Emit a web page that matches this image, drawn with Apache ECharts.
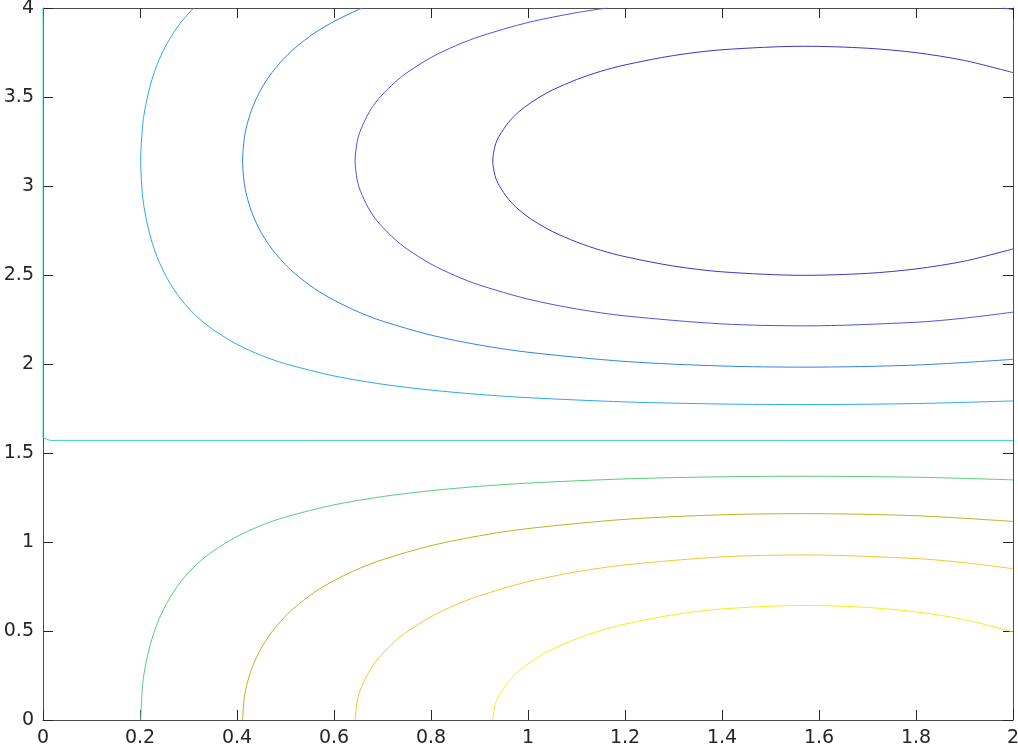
<!DOCTYPE html>
<html>
<head>
<meta charset="utf-8">
<script src="https://cdn.jsdelivr.net/npm/echarts@6/dist/echarts.min.js"></script>
<style type="text/css">
  html, body { margin: 0; padding: 0; background: #fff; }
  .chart { width: 1018px; height: 750px; }
</style>
</head>
<body>
<div id="main" class="chart"></div>
<script>
// contour lines as [x, y] points
const xTicks = [0, 0.2, 0.4, 0.6, 0.8, 1, 1.2, 1.4, 1.6, 1.8, 2]
const yTicks = [0, 0.5, 1, 1.5, 2, 2.5, 3, 3.5, 4]
const levels = [-0.8, -0.6, -0.4, -0.2, 0, 0.2, 0.4, 0.6, 0.8]
const levelColors = ['#3d35c8', '#4a55e6', '#2f82ef', '#2aaaee', '#3ad2c6', '#5acb7a', '#b8b427', '#f5c534', '#f2f01a']

const lineM08 = [[2.0, 3.6369], [1.9, 3.7052], [1.8, 3.7491], [1.7, 3.7739], [1.5708, 3.7851], [1.4, 3.7654], [1.3, 3.7329], [1.2, 3.6802], [1.15, 3.6443], [1.1, 3.5978], [1.05, 3.5386], [1.025, 3.5010], [1.0, 3.4569], [0.98, 3.4142], [0.96, 3.3582], [0.94, 3.2781], [0.932, 3.2253], [0.9273, 3.1416], [0.932, 3.0579], [0.94, 3.0051], [0.96, 2.9250], [0.98, 2.8690], [1.0, 2.8263], [1.025, 2.7822], [1.05, 2.7446], [1.1, 2.6854], [1.15, 2.6389], [1.2, 2.6030], [1.3, 2.5503], [1.4, 2.5178], [1.5708, 2.4981], [1.7, 2.5093], [1.8, 2.5341], [1.9, 2.5780], [2.0, 2.6463]]
const lineM06 = [[1.163, 4.0], [1.1, 3.9738], [1.0, 3.9187], [0.9, 3.8397], [0.85, 3.7872], [0.8, 3.7217], [0.75, 3.6358], [0.725, 3.5811], [0.7, 3.5141], [0.685, 3.4662], [0.67, 3.4021], [0.655, 3.3150], [0.648, 3.2512], [0.6435, 3.1416], [0.648, 3.0320], [0.655, 2.9682], [0.67, 2.8811], [0.685, 2.8170], [0.7, 2.7691], [0.725, 2.7021], [0.75, 2.6474], [0.8, 2.5615], [0.85, 2.4960], [0.9, 2.4435], [1.0, 2.3645], [1.1, 2.3094], [1.2, 2.2703], [1.4, 2.2254], [1.5708, 2.2143], [1.8, 2.2345], [1.9, 2.2578], [2.0, 2.2914]]
const lineM06Corner = [[1.978, 4.0], [2.0, 3.9918]]
const lineM04 = [[0.6585, 4.0], [0.65, 3.9903], [0.6, 3.9246], [0.56, 3.8600], [0.52, 3.7766], [0.5, 3.7254], [0.48, 3.6646], [0.465, 3.6107], [0.45, 3.5457], [0.44, 3.4919], [0.43, 3.4273], [0.42, 3.3374], [0.415, 3.2674], [0.4115, 3.1416], [0.415, 3.0158], [0.42, 2.9458], [0.43, 2.8559], [0.44, 2.7913], [0.45, 2.7375], [0.465, 2.6725], [0.48, 2.6186], [0.5, 2.5578], [0.52, 2.5066], [0.56, 2.4232], [0.6, 2.3586], [0.65, 2.2929], [0.7, 2.2408], [0.8, 2.1623], [0.9, 2.1066], [1.0, 2.0661], [1.2, 2.0144], [1.4, 1.9888], [1.5708, 1.9823], [1.8, 1.9941], [2.0, 2.0261]]
const lineM02 = [[0.311, 4.0], [0.3, 3.9692], [0.285, 3.9212], [0.27, 3.8645], [0.255, 3.7968], [0.24, 3.7129], [0.23, 3.6426], [0.22, 3.5524], [0.21, 3.4282], [0.205, 3.3300], [0.2014, 3.1416], [0.205, 2.9532], [0.21, 2.8550], [0.22, 2.7308], [0.23, 2.6406], [0.24, 2.5703], [0.255, 2.4864], [0.27, 2.4187], [0.285, 2.3620], [0.3, 2.3140], [0.32, 2.2596], [0.35, 2.1942], [0.4, 2.1104], [0.45, 2.0486], [0.5, 2.0012], [0.6, 1.9329], [0.7, 1.8864], [0.8, 1.8534], [0.9, 1.8289], [1.0, 1.8108], [1.2, 1.7871], [1.4, 1.7752], [1.5708, 1.7722], [1.8, 1.7777], [2.0, 1.7926]]
const lineZero = [[0, 4.0], [0, 1.585], [0.015, 1.5708], [2.0, 1.5708]]
const lineP02 = [[0.2014, 0], [0.205, 0.1884], [0.21, 0.2866], [0.22, 0.4108], [0.23, 0.5010], [0.24, 0.5713], [0.255, 0.6552], [0.27, 0.7229], [0.285, 0.7796], [0.3, 0.8276], [0.32, 0.8820], [0.35, 0.9474], [0.4, 1.0312], [0.45, 1.0930], [0.5, 1.1404], [0.6, 1.2087], [0.7, 1.2552], [0.8, 1.2882], [0.9, 1.3127], [1.0, 1.3308], [1.2, 1.3545], [1.4, 1.3664], [1.5708, 1.3694], [1.8, 1.3639], [2.0, 1.3490]]
const lineP04 = [[0.4115, 0], [0.415, 0.1258], [0.42, 0.1958], [0.43, 0.2857], [0.44, 0.3503], [0.45, 0.4041], [0.465, 0.4690], [0.48, 0.5230], [0.5, 0.5838], [0.52, 0.6350], [0.56, 0.7184], [0.6, 0.7830], [0.65, 0.8487], [0.7, 0.9008], [0.8, 0.9793], [0.9, 1.0350], [1.0, 1.0755], [1.2, 1.1272], [1.4, 1.1528], [1.5708, 1.1593], [1.8, 1.1475], [2.0, 1.1155]]
const lineP06 = [[0.6435, 0], [0.648, 0.1096], [0.655, 0.1734], [0.67, 0.2605], [0.685, 0.3246], [0.7, 0.3725], [0.725, 0.4395], [0.75, 0.4942], [0.8, 0.5801], [0.85, 0.6456], [0.9, 0.6981], [1.0, 0.7771], [1.1, 0.8322], [1.2, 0.8713], [1.4, 0.9162], [1.5708, 0.9273], [1.8, 0.9071], [1.9, 0.8838], [2.0, 0.8502]]
const lineP08 = [[0.9273, 0], [0.932, 0.0837], [0.94, 0.1365], [0.96, 0.2166], [0.98, 0.2726], [1.0, 0.3153], [1.025, 0.3594], [1.05, 0.3970], [1.1, 0.4562], [1.15, 0.5027], [1.2, 0.5386], [1.3, 0.5913], [1.4, 0.6238], [1.5708, 0.6435], [1.7, 0.6323], [1.8, 0.6075], [1.9, 0.5636], [2.0, 0.4953]]

const contourLines = [
  [lineM08], [lineM06, lineM06Corner], [lineM04], [lineM02],
  [lineZero], [lineP02], [lineP04], [lineP06], [lineP08]
]

const axisColor = '#4d4d4d'
const labelStyle = {
  fontFamily: 'DejaVu Sans',
  fontSize: 19,
  color: '#262626'
}

function makeAxis (ticks, pos, showLabel) {
  return {
    type: 'value',
    position: pos,
    min: ticks[0],
    max: ticks[ticks.length - 1],
    interval: ticks[1] - ticks[0],
    splitLine: {show: false},
    axisLine: {show: true, onZero: false, lineStyle: {color: axisColor, width: 1}},
    axisTick: {show: true, inside: true, length: 10, lineStyle: {color: '#262626', width: 1}},
    axisLabel: Object.assign({show: showLabel, margin: 9}, labelStyle)
  }
}

let series = []
levels.forEach((lvl, i) => {
  for (let pts of contourLines[i]) {
    series.push({
      name: String(lvl),
      type: 'line',
      data: pts,
      xAxisIndex: 0,
      yAxisIndex: 0,
      showSymbol: false,
      smooth: pts.length > 4 ? 0.3 : false,
      lineStyle: {color: levelColors[i], width: 1},
      z: 1
    })
  }
})

const myChart = echarts.init(document.getElementById('main'))
myChart.setOption({
  animation: false,
  backgroundColor: '#ffffff',
  grid: {left: 43, right: 5, top: 8, bottom: 30, containLabel: false, outerBoundsMode: 'none'},
  xAxis: [makeAxis(xTicks, 'bottom', true), makeAxis(xTicks, 'top', false)],
  yAxis: [makeAxis(yTicks, 'left', true), makeAxis(yTicks, 'right', false)],
  series: series
})
</script>
</body>
</html>
